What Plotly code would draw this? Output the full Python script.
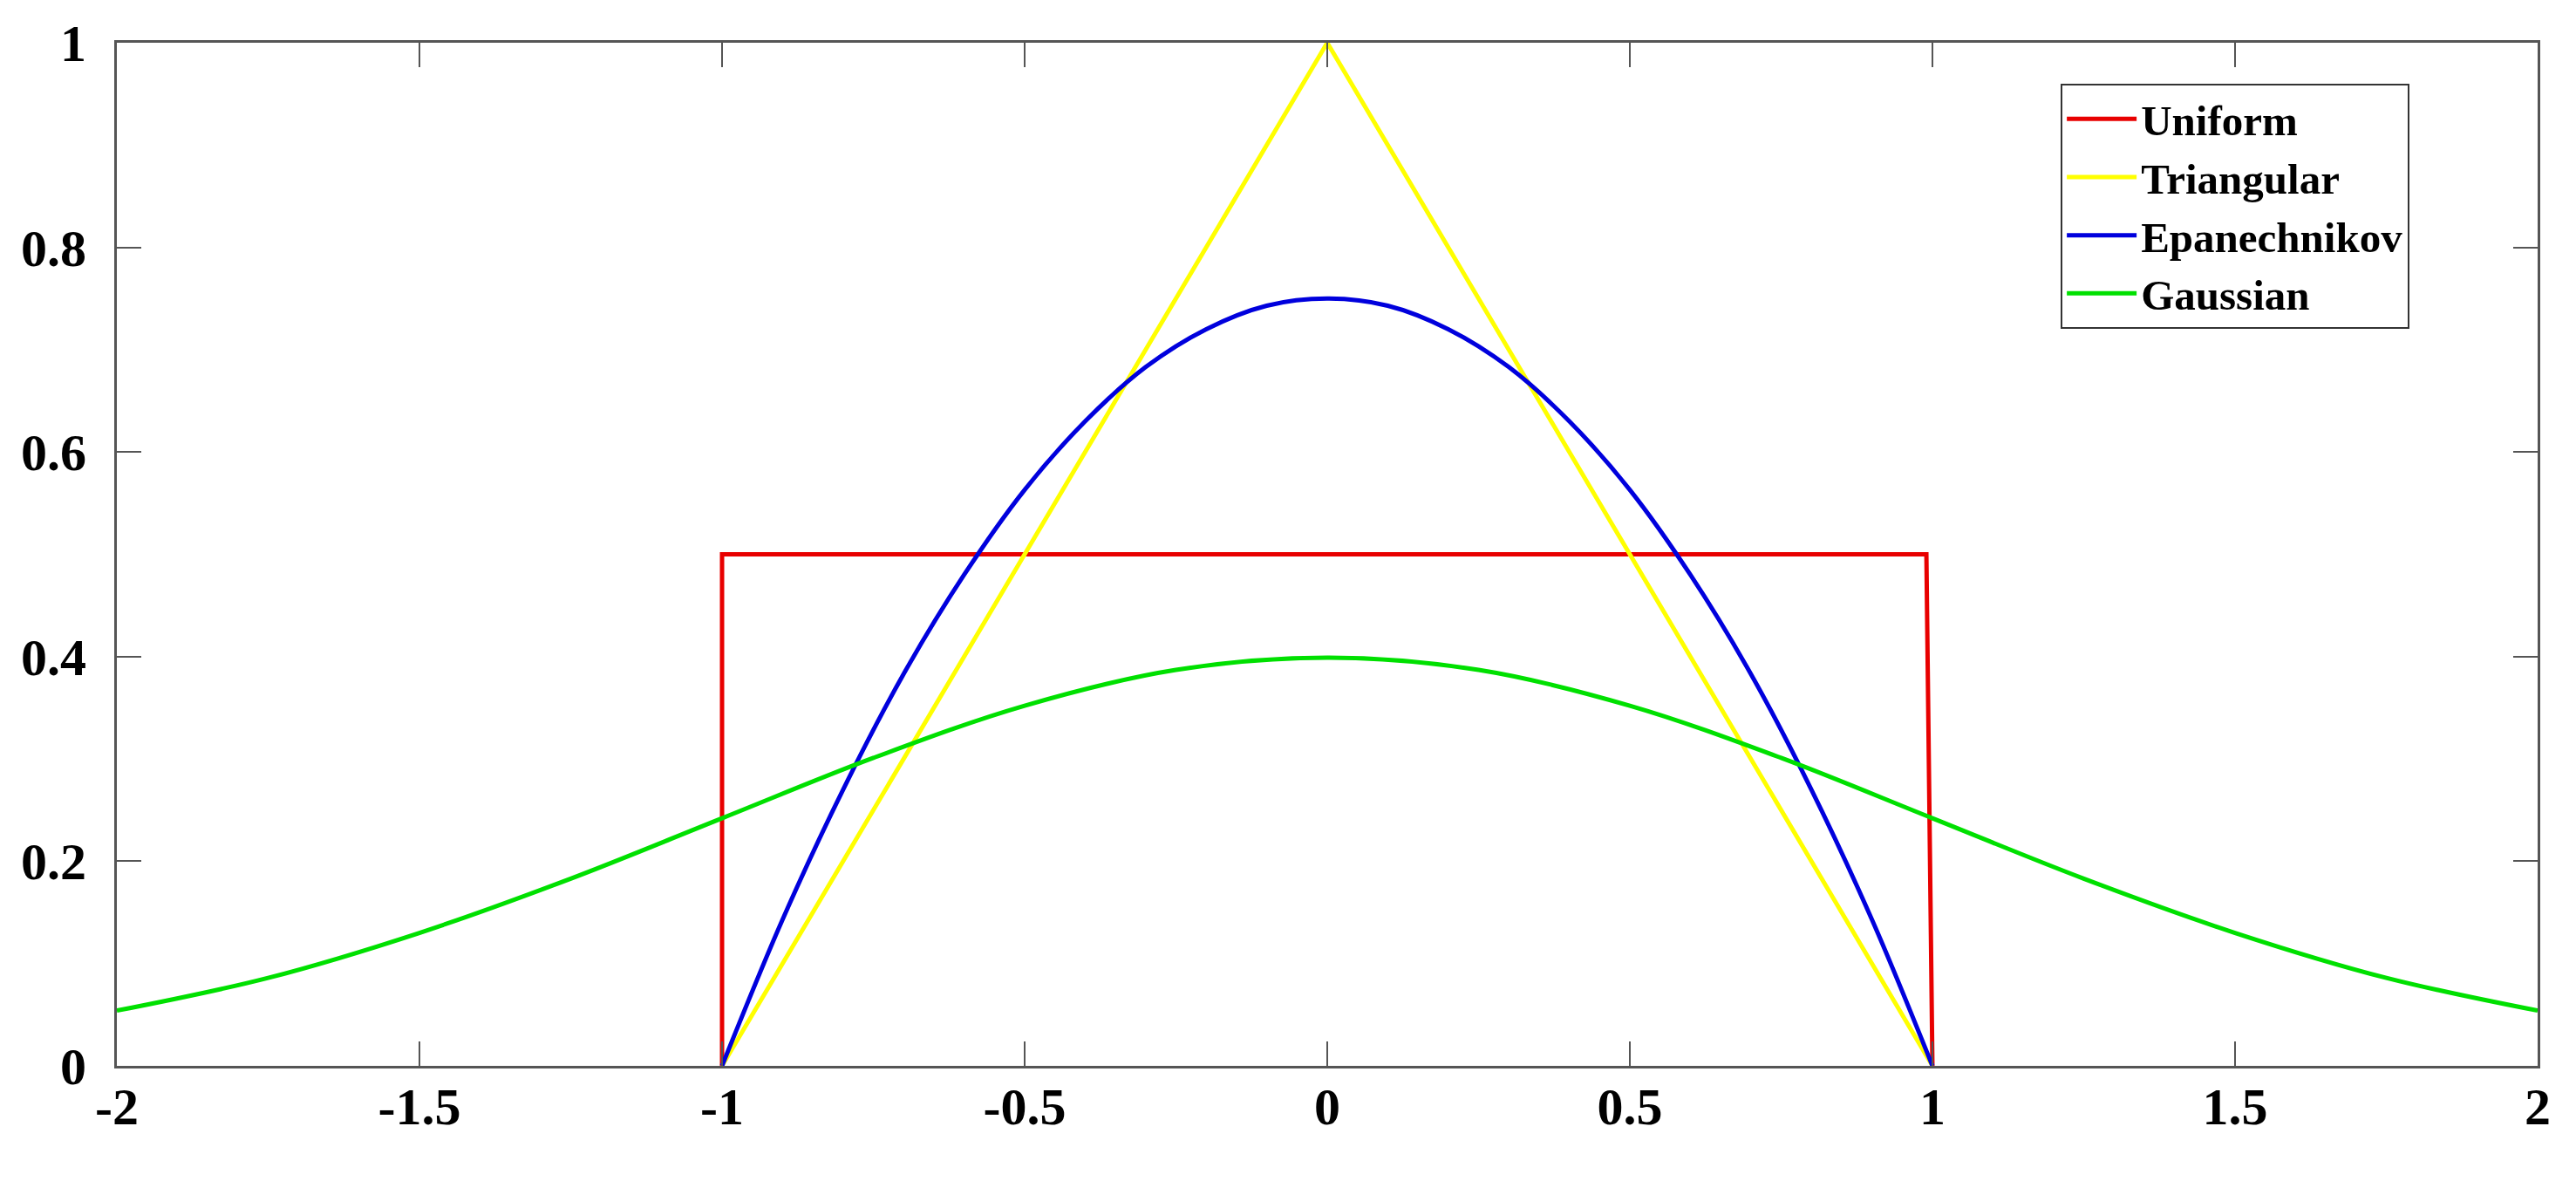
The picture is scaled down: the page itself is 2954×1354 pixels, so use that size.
import plotly.graph_objects as go

# values
uniform_x = [-1.0, -1.0, 0.99, 1.0]
uniform_y = [0.0, 0.5, 0.5, 0.0]

tri_x = [-1.0, 0.0, 1.0]
tri_y = [0.0, 1.0, 0.0]

epan_x = [-1.0, -0.9, -0.8, -0.7, -0.6, -0.5, -0.4, -0.3, -0.2, -0.1, 0.0,
          0.1, 0.2, 0.3, 0.4, 0.5, 0.6, 0.7, 0.8, 0.9, 1.0]
epan_y = [0.0, 0.143, 0.27, 0.383, 0.48, 0.563, 0.63, 0.683, 0.72, 0.743, 0.75,
          0.743, 0.72, 0.683, 0.63, 0.563, 0.48, 0.383, 0.27, 0.143, 0.0]

gauss_x = [-2.0, -1.75, -1.5, -1.25, -1.0, -0.75, -0.5, -0.25, 0.0,
           0.25, 0.5, 0.75, 1.0, 1.25, 1.5, 1.75, 2.0]
gauss_y = [0.054, 0.086, 0.13, 0.183, 0.242, 0.301, 0.352, 0.387, 0.399,
           0.387, 0.352, 0.301, 0.242, 0.183, 0.13, 0.086, 0.054]

x_ticks = [-2, -1.5, -1, -0.5, 0, 0.5, 1, 1.5, 2]
y_ticks = [0, 0.2, 0.4, 0.6, 0.8, 1]

serif = "Liberation Serif, Times New Roman, serif"
axis_col = "#555555"

fig = go.Figure()
fig.add_trace(go.Scatter(x=uniform_x, y=uniform_y, mode="lines", name="Uniform",
                         line=dict(color="#e80000", width=5)))
fig.add_trace(go.Scatter(x=tri_x, y=tri_y, mode="lines", name="Triangular",
                         line=dict(color="#ffff00", width=5)))
fig.add_trace(go.Scatter(x=epan_x, y=epan_y, mode="lines", name="Epanechnikov",
                         line=dict(color="#0000dd", width=5, shape="spline")))
fig.add_trace(go.Scatter(x=gauss_x, y=gauss_y, mode="lines", name="Gaussian",
                         line=dict(color="#00e000", width=5, shape="spline")))

axis_style = dict(
    showline=True, linecolor=axis_col, linewidth=3, mirror="ticks",
    ticks="inside", ticklen=28, tickwidth=2, tickcolor=axis_col,
    showgrid=False, zeroline=False,
    tickfont=dict(family=serif, size=60, color="black", weight="bold"),
)

fig.update_xaxes(range=[-2, 2], tickvals=x_ticks,
                 ticktext=[f"{v:g}" for v in x_ticks], ticklabelstandoff=-8, **axis_style)
fig.update_yaxes(range=[0, 1], tickvals=y_ticks,
                 ticktext=[f"{v:g}" for v in y_ticks], ticklabelstandoff=20, **axis_style)

fig.update_layout(
    width=2954, height=1354,
    margin=dict(l=134, r=44, t=49, b=132),
    plot_bgcolor="white", paper_bgcolor="white",
    legend=dict(x=0.803, y=0.96, xanchor="left", yanchor="top",
                bordercolor="#333333", borderwidth=2, bgcolor="white",
                font=dict(family=serif, size=49, color="black", weight="bold"),
                itemwidth=80, tracegroupgap=0),
)

fig.write_html("out.html", config={"displayModeBar": False},
               post_script="document.body.style.margin='0';")
